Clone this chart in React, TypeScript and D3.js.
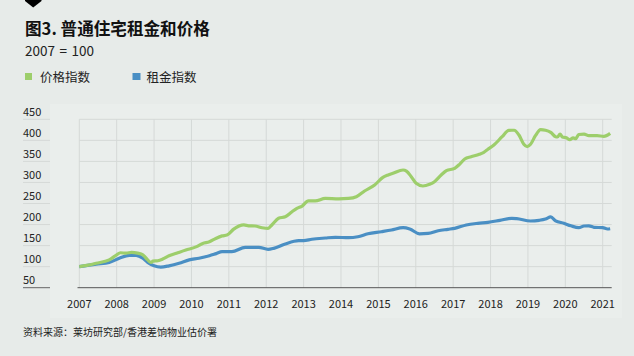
import React from "react";
import * as d3 from "d3";

const W = 634;
const H = 356;

const title = "图3. 普通住宅租金和价格";
const subtitle = "2007 = 100";
const source = "资料来源：莱坊研究部/香港差饷物业估价署";
const seriesNames = ["价格指数", "租金指数"];
const seriesColors = ["#9dce6b", "#4a8fc4"];

const yearTicks = [2007, 2008, 2009, 2010, 2011, 2012, 2013, 2014, 2015, 2016, 2017, 2018, 2019, 2020, 2021];
const valueTicks = [50, 100, 150, 200, 250, 300, 350, 400, 450];

const priceYears = [
  2007.0, 2007.2, 2007.45, 2007.8, 2008.0, 2008.1, 2008.25, 2008.4, 2008.56, 2008.7, 2008.83, 2008.92, 2008.97,
  2009.1, 2009.23, 2009.4, 2009.6, 2009.85, 2010.12, 2010.3, 2010.48, 2010.65, 2010.82, 2010.95, 2011.13, 2011.4,
  2011.53, 2011.7, 2011.89, 2012.05, 2012.15, 2012.33, 2012.51, 2012.69, 2012.82, 2012.96, 2013.13, 2013.31,
  2013.58, 2013.94, 2014.2, 2014.41, 2014.63, 2014.9, 2015.12, 2015.26, 2015.39, 2015.66, 2015.75, 2015.88,
  2016.01, 2016.19, 2016.37, 2016.5, 2016.68, 2016.82, 2017.04, 2017.17, 2017.31, 2017.48, 2017.7, 2017.82,
  2017.93, 2018.09, 2018.31, 2018.49, 2018.63, 2018.76, 2018.89, 2018.98, 2019.07, 2019.2, 2019.34, 2019.47,
  2019.61, 2019.74, 2019.79, 2019.86, 2019.92, 2020.03, 2020.12, 2020.21, 2020.28, 2020.36, 2020.5, 2020.63,
  2020.85, 2021.03, 2021.2,
];
const priceValues = [
  100, 103, 108, 116, 128, 133, 132, 134, 132, 128, 116, 110, 113,
  114, 118, 126, 132, 139.5, 147, 155, 159, 167, 173, 175, 189, 199,
  197, 196.5, 192.5, 191, 199, 215, 218.6, 230.5, 238.5, 244, 256, 256,
  262, 261, 262, 266, 279.7, 294, 312, 317.7, 321.7, 329.6, 327, 313.7,
  298, 291.6, 295.6, 301.8, 317.7, 328, 333.6, 343, 355.7, 361, 367, 371.6,
  378.7, 389, 408.7, 423.9, 424, 412.7, 390.6, 385, 390.6, 411, 425.3, 424,
  419, 408.7, 408, 415, 408, 406, 401.5, 406, 404, 414, 415, 411,
  411, 409.6, 416.7,
];

const rentYears = [
  2007.0, 2007.45, 2007.8, 2008.07, 2008.34, 2008.52, 2008.7, 2008.83, 2009.0, 2009.18, 2009.4, 2009.67, 2009.94,
  2010.2, 2010.48, 2010.66, 2010.82, 2011.08, 2011.44, 2011.8, 2012.05, 2012.2, 2012.51, 2012.87, 2013.0, 2013.22,
  2013.58, 2013.85, 2014.2, 2014.45, 2014.72, 2015.08, 2015.35, 2015.66, 2015.84, 2016.1, 2016.33, 2016.6,
  2016.86, 2017.04, 2017.35, 2017.66, 2017.93, 2018.25, 2018.57, 2018.7, 2019.07, 2019.3, 2019.47, 2019.61,
  2019.74, 2019.96, 2020.15, 2020.36, 2020.5, 2020.63, 2020.77, 2021.0, 2021.13, 2021.2,
];
const rentValues = [
  100, 106, 110, 120, 127, 127, 120, 110, 102, 99, 102, 108, 116,
  120, 126, 131, 135.5, 135.5, 146, 146, 141, 143.5, 154, 161.6, 161.6, 165,
  168, 169.7, 168.8, 171, 178, 183, 187, 192.5, 189.4, 178, 179, 185.4,
  188.7, 191, 199, 203, 205.3, 210, 214.8, 214, 208.4, 210, 213, 218,
  209, 203, 197, 192.5, 196.6, 197, 193.5, 192.5, 189.4, 190,
];

const FONT = "'Noto Sans CJK SC', 'Noto Sans', sans-serif";

export default function App() {
  const x = d3.scaleLinear().domain([2007, 2021]).range([79.3, 602.7]);
  const y = d3.scaleLinear().domain([50, 450]).range([287.7, 119.3]);
  const gridRight = 611.7;

  const line = d3
    .line<[number, number]>()
    .x((d) => x(d[0]))
    .y((d) => y(d[1]))
    .curve(d3.curveMonotoneX);

  const priceData: [number, number][] = priceYears.map((t, i) => [t, priceValues[i]]);
  const rentData: [number, number][] = rentYears.map((t, i) => [t, rentValues[i]]);

  return (
    <svg
      width={W}
      height={H}
      style={{ position: "absolute", left: 0, top: 0, display: "block" }}
      fontFamily={FONT}
    >
      <rect x={0} y={0} width={W} height={H} fill="#e7ebe9" />
      <rect x={50} y={104} width={572} height={214} fill="#eaeeec" />
      <polygon points="25,0 41.5,0 41.5,1 33.2,7.5 25,1" fill="#000" />
      <text x={25} y={34.5} fontSize={16.6} fontWeight="bold" fill="#111">
        {title}
      </text>
      <text x={25} y={56} fontSize={13.5} fill="#222" style={{ wordSpacing: "1.5px" }}>
        {subtitle}
      </text>
      <rect x={25} y={73} width={7} height={7} fill={seriesColors[0]} />
      <text x={40} y={81.5} fontSize={12.5} fill="#222">
        {seriesNames[0]}
      </text>
      <rect x={132.5} y={73} width={8} height={7} fill={seriesColors[1]} />
      <text x={146.5} y={81.5} fontSize={12.5} fill="#222">
        {seriesNames[1]}
      </text>

      {/* horizontal grid + left label underlines */}
      {valueTicks.map((v) => (
        <g key={"h" + v}>
          {v > 50 && (
            <line x1={x(2007)} x2={gridRight} y1={y(v)} y2={y(v)} stroke="#d5d9d7" strokeWidth={1} />
          )}
          <line
            x1={23}
            x2={50}
            y1={y(v)}
            y2={y(v)}
            stroke={v === 50 ? "#666" : "#d5d9d7"}
            strokeWidth={1}
          />
          <text x={23} y={y(v) - 3.5} fontSize={11} fill="#222">
            {v}
          </text>
        </g>
      ))}
      {/* vertical grid */}
      {yearTicks.map((t) => (
        <line key={"v" + t} x1={x(t)} x2={x(t)} y1={y(450)} y2={y(50)} stroke="#d5d9d7" strokeWidth={1} />
      ))}
      {/* bottom axis */}
      <line x1={77.5} x2={gridRight} y1={y(50)} y2={y(50)} stroke="#555" strokeWidth={1} />
      {yearTicks.map((t) => (
        <text key={"t" + t} x={x(t)} y={308} fontSize={11} fill="#222" textAnchor="middle">
          {t}
        </text>
      ))}

      <path d={line(rentData) || ""} fill="none" stroke={seriesColors[1]} strokeWidth={3.2} strokeLinejoin="round" />
      <path d={line(priceData) || ""} fill="none" stroke={seriesColors[0]} strokeWidth={3.2} strokeLinejoin="round" />

      <text x={23} y={336} fontSize={10} fill="#222">
        {source}
      </text>
    </svg>
  );
}
